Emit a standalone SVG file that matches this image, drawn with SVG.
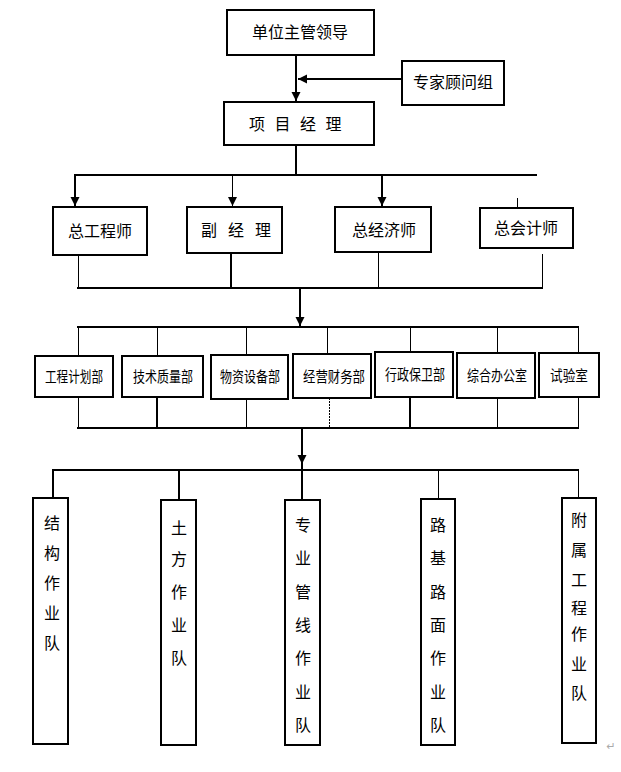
<svg xmlns="http://www.w3.org/2000/svg" width="621" height="772" viewBox="0 0 621 772">
<defs>
<style>
.box{fill:#fff;stroke:#000;stroke-width:2}
.t{font-family:"Noto Sans CJK SC","Liberation Sans",sans-serif;fill:#000;font-size:16px}
.d{font-family:"Noto Sans CJK SC","Liberation Sans",sans-serif;fill:#000;font-size:15px}
.v{font-family:"Noto Sans CJK SC","Liberation Sans",sans-serif;fill:#000;font-size:16px;text-anchor:middle}
.ln{fill:none;stroke:#000;stroke-width:2}
.th{fill:none;stroke:#000;stroke-width:1}
</style>
<marker id="ah" viewBox="0 0 10 10" refX="10" refY="5" markerWidth="9" markerHeight="10" markerUnits="userSpaceOnUse" orient="auto">
<path d="M0,0L10,5L0,10z" fill="#000"/>
</marker>
</defs>
<rect width="621" height="772" fill="#fff"/>
<g id="connectors">
<line class="ln" x1="296" y1="55" x2="296" y2="101" marker-end="url(#ah)"/>
<line class="ln" x1="402" y1="79" x2="298" y2="79" marker-end="url(#ah)"/>
<line class="ln" x1="296" y1="145" x2="296" y2="175"/>
<line class="ln" x1="74" y1="175" x2="537" y2="175"/>
<line class="ln" x1="75" y1="175" x2="75" y2="206" marker-end="url(#ah)"/>
<line class="th" x1="232.5" y1="175" x2="232.5" y2="206" marker-end="url(#ah)"/>
<line class="ln" x1="382" y1="175" x2="382" y2="206" marker-end="url(#ah)"/>
<line class="th" x1="517.5" y1="198" x2="517.5" y2="208"/>
<line class="th" x1="78.5" y1="255" x2="78.5" y2="288"/>
<line class="ln" x1="231" y1="253" x2="231" y2="288"/>
<line class="th" x1="378.5" y1="252" x2="378.5" y2="288"/>
<line class="th" x1="542.5" y1="254" x2="542.5" y2="288"/>
<line class="ln" x1="77" y1="288" x2="543" y2="288"/>
<line class="ln" x1="300" y1="288" x2="300" y2="326" marker-end="url(#ah)"/>
<line class="ln" x1="77" y1="327" x2="579" y2="327"/>
<line class="th" x1="78.5" y1="327" x2="78.5" y2="356"/>
<line class="th" x1="157.5" y1="327" x2="157.5" y2="356"/>
<line class="th" x1="246.5" y1="327" x2="246.5" y2="355"/>
<line class="th" x1="327.5" y1="327" x2="327.5" y2="354"/>
<line class="th" x1="410.5" y1="327" x2="410.5" y2="352"/>
<line class="th" x1="497.5" y1="327" x2="497.5" y2="353"/>
<line class="th" x1="578.5" y1="327" x2="578.5" y2="353"/>
<line class="th" x1="78.5" y1="397" x2="78.5" y2="428"/>
<line class="ln" x1="157" y1="397" x2="157" y2="428"/>
<line class="th" x1="246.5" y1="399" x2="246.5" y2="428"/>
<line class="th" x1="329.5" y1="398" x2="329.5" y2="428" stroke-dasharray="2,1"/>
<line class="ln" x1="410" y1="397" x2="410" y2="428"/>
<line class="th" x1="497.5" y1="398" x2="497.5" y2="428"/>
<line class="th" x1="578.5" y1="397" x2="578.5" y2="428"/>
<line class="ln" x1="77" y1="428" x2="579" y2="428"/>
<line class="ln" x1="302" y1="428" x2="302" y2="464" marker-end="url(#ah)"/>
<line class="ln" x1="302" y1="464" x2="302" y2="499"/>
<line class="ln" x1="52" y1="470" x2="579" y2="470"/>
<line class="ln" x1="53" y1="470" x2="53" y2="498"/>
<line class="ln" x1="179" y1="470" x2="179" y2="500"/>
<line class="th" x1="438.5" y1="470" x2="438.5" y2="499"/>
<line class="th" x1="578.5" y1="470" x2="578.5" y2="498"/>
</g>
<g id="n-leader">
<rect class="box" x="227" y="10" width="147" height="45"/>
<text class="t" x="300" y="38" text-anchor="middle" font-size="17">单位主管领导</text>
</g>
<g id="n-expert">
<rect class="box" x="402" y="61" width="102" height="44"/>
<text class="t" x="453" y="88" text-anchor="middle">专家顾问组</text>
</g>
<g id="n-pm">
<rect class="box" x="224" y="102" width="150" height="43"/>
<text class="t" x="249" y="130" font-size="17" letter-spacing="9.5">项目经理</text>
</g>
<g id="n-chief-eng">
<rect class="box" x="53" y="207" width="94" height="48"/>
<text class="t" x="100" y="237" text-anchor="middle">总工程师</text>
</g>
<g id="n-deputy">
<rect class="box" x="187" y="207" width="95" height="46"/>
<text class="t" x="201" y="236" letter-spacing="11">副经理</text>
</g>
<g id="n-chief-econ">
<rect class="box" x="335" y="207" width="96" height="45"/>
<text class="t" x="384" y="236" text-anchor="middle">总经济师</text>
</g>
<g id="n-chief-acc">
<rect class="box" x="480" y="208" width="93" height="40"/>
<text class="t" x="526" y="234" text-anchor="middle">总会计师</text>
</g>
<g id="n-d1">
<rect class="box" x="35" y="356" width="78" height="41"/>
<text class="d" x="45" y="382" textLength="58" lengthAdjust="spacingAndGlyphs">工程计划部</text>
</g>
<g id="n-d2">
<rect class="box" x="122" y="356" width="81" height="41"/>
<text class="d" x="133" y="382" textLength="60" lengthAdjust="spacingAndGlyphs">技术质量部</text>
</g>
<g id="n-d3">
<rect class="box" x="211" y="355" width="77" height="44"/>
<text class="d" x="220" y="382" textLength="60" lengthAdjust="spacingAndGlyphs">物资设备部</text>
</g>
<g id="n-d4">
<rect class="box" x="293" y="354" width="78" height="44"/>
<text class="d" x="303" y="382" textLength="62" lengthAdjust="spacingAndGlyphs">经营财务部</text>
</g>
<g id="n-d5">
<rect class="box" x="375" y="352" width="78" height="45"/>
<text class="d" x="385" y="380" textLength="60" lengthAdjust="spacingAndGlyphs">行政保卫部</text>
</g>
<g id="n-d6">
<rect class="box" x="457" y="353" width="78" height="45"/>
<text class="d" x="467" y="381" textLength="60" lengthAdjust="spacingAndGlyphs">综合办公室</text>
</g>
<g id="n-d7">
<rect class="box" x="539" y="353" width="60" height="44"/>
<text class="d" x="550" y="381" textLength="38" lengthAdjust="spacingAndGlyphs">试验室</text>
</g>
<g id="n-t1">
<rect class="box" x="33" y="498" width="35" height="246"/>
<text class="v" x="52"><tspan x="52" y="529">结</tspan><tspan x="52" y="559">构</tspan><tspan x="52" y="589">作</tspan><tspan x="52" y="619">业</tspan><tspan x="52" y="649">队</tspan></text>
</g>
<g id="n-t2">
<rect class="box" x="161" y="500" width="35" height="245"/>
<text class="v" x="179"><tspan x="179" y="534">土</tspan><tspan x="179" y="565">方</tspan><tspan x="179" y="598">作</tspan><tspan x="179" y="631">业</tspan><tspan x="179" y="664">队</tspan></text>
</g>
<g id="n-t3">
<rect class="box" x="285" y="500" width="35" height="245"/>
<text class="v" x="303"><tspan x="303" y="531">专</tspan><tspan x="303" y="564">业</tspan><tspan x="303" y="598">管</tspan><tspan x="303" y="631">线</tspan><tspan x="303" y="664">作</tspan><tspan x="303" y="698">业</tspan><tspan x="303" y="731">队</tspan></text>
</g>
<g id="n-t4">
<rect class="box" x="421" y="499" width="34" height="246"/>
<text class="v" x="438"><tspan x="438" y="531">路</tspan><tspan x="438" y="564">基</tspan><tspan x="438" y="598">路</tspan><tspan x="438" y="631">面</tspan><tspan x="438" y="664">作</tspan><tspan x="438" y="698">业</tspan><tspan x="438" y="731">队</tspan></text>
</g>
<g id="n-t5">
<rect class="box" x="562" y="498" width="34" height="245"/>
<text class="v" x="579"><tspan x="579" y="526">附</tspan><tspan x="579" y="556">属</tspan><tspan x="579" y="586">工</tspan><tspan x="579" y="614">程</tspan><tspan x="579" y="640">作</tspan><tspan x="579" y="670">业</tspan><tspan x="579" y="699">队</tspan></text>
</g>
<text x="611" y="750" font-family="DejaVu Sans,sans-serif" font-size="11" fill="#aaa" text-anchor="middle">↵</text>
</svg>
